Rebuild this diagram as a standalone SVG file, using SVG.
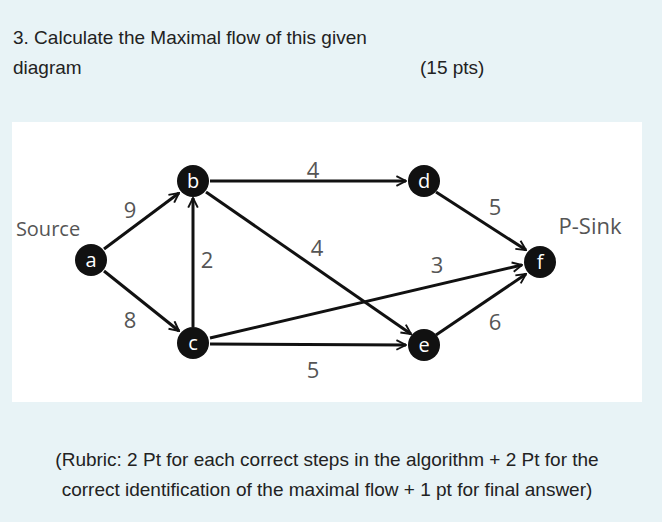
<svg xmlns="http://www.w3.org/2000/svg" width="662" height="522" viewBox="0 0 662 522">
<style>
.t{font-family:"Liberation Sans",Arial,sans-serif;font-size:19px;fill:#222}
.l{font-family:"Open Sans",sans-serif;font-size:22px;fill:#555;text-anchor:middle}
.n circle{fill:#111}
.n text{font-family:"Open Sans",sans-serif;font-size:20px;fill:#fff;text-anchor:middle}
.e line{stroke:#111;stroke-width:3;marker-end:url(#ah)}
</style>
<defs><marker id="ah" viewBox="0 0 10 10" refX="9" refY="5" markerWidth="4" markerHeight="4" orient="auto" markerUnits="strokeWidth"><path d="M1,1 L9,5 L1,9" fill="none" stroke="#111" stroke-width="1.6"/></marker></defs>
<rect width="662" height="522" fill="#e8f3f6"/>
<text class="t" x="13" y="44">3. Calculate the Maximal flow of this given</text>
<text class="t" x="13" y="74">diagram</text>
<text class="t" x="420" y="74">(15 pts)</text>
<rect x="12" y="122" width="630" height="280" fill="#fff"/>
<g id="connectors" class="e">
<line x1="104" y1="249" x2="179" y2="193"/>
<line x1="104" y1="271" x2="179" y2="331"/>
<line x1="193" y1="327" x2="193" y2="198"/>
<line x1="210" y1="181" x2="406" y2="181"/>
<line x1="206" y1="192" x2="411" y2="334"/>
<line x1="210" y1="338" x2="522" y2="265"/>
<line x1="210" y1="344" x2="406" y2="345"/>
<line x1="436" y1="192" x2="526" y2="250"/>
<line x1="436" y1="335" x2="526" y2="274"/>
</g>
<g class="l">
<text x="130" y="218">9</text><text x="130" y="328">8</text><text x="207" y="268">2</text>
<text x="313" y="178">4</text><text x="317" y="256">4</text><text x="437" y="273">3</text>
<text x="313" y="378">5</text><text x="495" y="215">5</text><text x="495" y="330">6</text>
</g>
<text x="48" y="236" style="font-family:'Open Sans',sans-serif;font-size:20px;fill:#555;text-anchor:middle">Source</text>
<text x="590" y="234" style="font-family:'Open Sans',sans-serif;font-size:22px;fill:#555;text-anchor:middle">P-Sink</text>
<g id="a" class="n"><circle cx="91" cy="260" r="16"/><text x="91" y="267">a</text></g>
<g id="b" class="n"><circle cx="193" cy="181" r="16"/><text x="193" y="188">b</text></g>
<g id="c" class="n"><circle cx="193" cy="343" r="16"/><text x="193" y="350">c</text></g>
<g id="d" class="n"><circle cx="424" cy="181" r="16"/><text x="424" y="188">d</text></g>
<g id="e" class="n"><circle cx="424" cy="345" r="16"/><text x="424" y="352">e</text></g>
<g id="f" class="n"><circle cx="540" cy="262" r="16"/><text x="540" y="269">f</text></g>
<text class="t" x="327" y="466" text-anchor="middle">(Rubric:  2 Pt for each correct steps in the algorithm + 2 Pt for the</text>
<text class="t" x="327" y="496" text-anchor="middle">correct identification of the maximal flow + 1 pt for final answer)</text>
</svg>
